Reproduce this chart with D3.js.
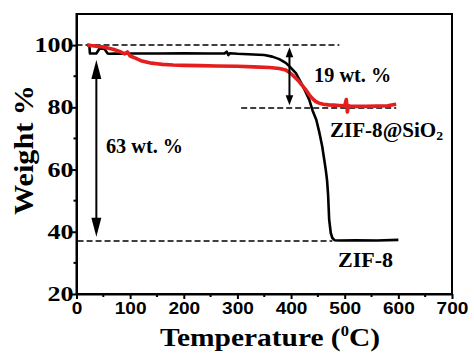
<!DOCTYPE html>
<html><head><meta charset="utf-8">
<script src="https://cdn.jsdelivr.net/npm/d3@7/dist/d3.min.js"></script>
<style>
html,body{margin:0;padding:0;background:#fff;}
svg{display:block;}
</style></head>
<body>
<svg id="chart" width="474" height="357"></svg>
<script>
// ---- data ----
const zifTemp   = [20,24,25,30,37,43,52,58,62,70,80,100,150,200,250,276,280,283,286,300,330,350,365,378,390,397,409,420,428,434,440,447,453,458,462,465,467,469,471,474,477,481,490,520,560,600];
const zifWeight = [100,100,97.3,97.3,97.3,98.9,98.8,97.3,97.2,97.3,97.2,97.3,97.3,97.4,97.3,97.3,97.9,96.8,97.4,97.2,97.0,96.8,96.3,95.5,94.3,93.2,91.0,87.5,84.6,82.4,79.0,76.0,71.7,67.5,63.0,59.5,56.7,52.0,44.0,39.6,38.0,37.3,37.2,37.3,37.2,37.4];

const sioTemp   = [20,30,40,50,60,70,80,90,95,100,110,120,130,140,150,160,180,200,230,260,300,330,360,378,390,397,405,415,421,428,434,440,445,450,455,460,470,480,490,500,503,505,507,510,520,540,560,580,590,596];
const sioWeight = [100,99.8,99.6,99.4,99.0,98.6,98.0,97.2,97.8,96.5,95.8,95.0,94.6,94.2,94.0,93.8,93.6,93.5,93.4,93.3,93.2,93.0,92.8,92.5,92.0,91.2,90.0,88.3,87.0,85.5,84.0,82.8,82.0,81.5,81.2,81.0,80.8,80.7,80.6,80.5,82.5,78.5,80.5,80.4,80.3,80.3,80.4,80.5,80.8,81.0];

const tempTicks   = [0,100,200,300,400,500,600,700];
const tempMinor   = [50,150,250,350,450,550,650];
const weightTicks = [20,40,60,80,100];
const weightMinor = [30,50,70,90];

// reference lines: [weight, tStart, tEnd]
const refLines = [[100,0,490],[79.8,307,596],[37.0,2,477]];
// arrows: [temperature, weight tip 1, weight tip 2]
const arrows = [[397,99.3,80.7],[37,95.2,38.4]];
// annotations: [text, temperature, weight]
const notes = [["19 wt. %",443,88.2],["63 wt. %",55,65.3]];

// ---- layout ----
const svg = d3.select("#chart");
const x = d3.scaleLinear().domain([0,700]).range([76.5,452]);
const y = d3.scaleLinear().domain([20,110]).range([294,14]);
const serif = "'Liberation Serif','Times New Roman',serif";
const sans  = "'Liberation Sans',Arial,sans-serif";

// frame
svg.append("rect").attr("x",x(0)).attr("y",y(110))
  .attr("width",x(700)-x(0)).attr("height",y(20)-y(110))
  .attr("fill","none").attr("stroke","#000").attr("stroke-width",2);

// x axis
const gx = svg.append("g").attr("transform",`translate(0,${y(20)})`)
  .call(d3.axisBottom(x).tickValues(tempTicks).tickSize(5).tickSizeOuter(0).tickFormat(d3.format("d")));
gx.select(".domain").attr("stroke-width",2);
gx.selectAll(".tick line").attr("stroke-width",2);
gx.selectAll(".tick text").attr("font-family",sans).attr("font-weight","bold")
  .attr("font-size",17).attr("y",8).attr("fill","#000")
  .attr("textLength",d=>String(d).length*10.6).attr("lengthAdjust","spacingAndGlyphs");
svg.append("g").selectAll("line").data(tempMinor).join("line")
  .attr("x1",d=>x(d)).attr("x2",d=>x(d)).attr("y1",y(20)).attr("y2",y(20)+3)
  .attr("stroke","#000").attr("stroke-width",2);

// y axis
const gy = svg.append("g").attr("transform",`translate(${x(0)},0)`)
  .call(d3.axisLeft(y).tickValues(weightTicks).tickSize(5).tickSizeOuter(0).tickFormat(d3.format("d")));
gy.select(".domain").attr("stroke-width",2);
gy.selectAll(".tick line").attr("stroke-width",2);
gy.selectAll(".tick text").attr("font-family",serif).attr("font-weight","bold")
  .attr("font-size",20).attr("x",-3).attr("dy","0.33em").attr("fill","#000")
  .attr("textLength",d=>String(d).length*13).attr("lengthAdjust","spacingAndGlyphs");
svg.append("g").selectAll("line").data(weightMinor).join("line")
  .attr("x1",x(0)).attr("x2",x(0)-3).attr("y1",d=>y(d)).attr("y2",d=>y(d))
  .attr("stroke","#000").attr("stroke-width",2);

// dashed reference lines
svg.append("g").selectAll("line").data(refLines).join("line")
  .attr("x1",d=>x(d[1])).attr("x2",d=>x(d[2])).attr("y1",d=>y(d[0])).attr("y2",d=>y(d[0]))
  .attr("stroke","#000").attr("stroke-width",1.5).attr("stroke-dasharray","6,3");

// curves
const lin = d3.line().x(d=>x(d[0])).y(d=>y(d[1])).curve(d3.curveLinear);
const zifData = zifTemp.map((t,i)=>[t,zifWeight[i]]);
const sioData = sioTemp.map((t,i)=>[t,sioWeight[i]]);
svg.append("path").datum(zifData).attr("d",lin)
  .attr("fill","none").attr("stroke","#000").attr("stroke-width",2.6).attr("stroke-linejoin","round");
svg.append("path").datum(sioData).attr("d",lin)
  .attr("fill","none").attr("stroke","#e41e1e").attr("stroke-width",3.6).attr("stroke-linejoin","round");

// arrows
arrows.forEach((a,i)=>{
  const ax = x(a[0]), y1 = y(a[1]), y2 = y(a[2]);
  const hl = i===0 ? 10 : 19, hw = i===0 ? 3.8 : 5;
  svg.append("line").attr("x1",ax).attr("x2",ax).attr("y1",y1+hl-2).attr("y2",y2-hl+2)
    .attr("stroke","#000").attr("stroke-width",2);
  svg.append("path").attr("d",`M${ax},${y1} L${ax-hw},${y1+hl} L${ax+hw},${y1+hl} Z`).attr("fill","#000");
  svg.append("path").attr("d",`M${ax},${y2} L${ax-hw},${y2-hl} L${ax+hw},${y2-hl} Z`).attr("fill","#000");
});

// annotations
svg.append("g").selectAll("text").data(notes).join("text")
  .attr("x",d=>x(d[1])).attr("y",d=>y(d[2]))
  .attr("font-family",serif).attr("font-weight","bold").attr("font-size",20)
  .attr("textLength",77).attr("lengthAdjust","spacingAndGlyphs")
  .text(d=>d[0]);

// series labels
const lab1 = svg.append("text").attr("x",330).attr("y",137)
  .attr("font-family",serif).attr("font-weight","bold").attr("font-size",20)
  .attr("textLength",113).attr("lengthAdjust","spacingAndGlyphs");
lab1.append("tspan").text("ZIF-8@SiO");
lab1.append("tspan").attr("font-size",13).attr("dy",3).text("2");
svg.append("text").attr("x",338).attr("y",267)
  .attr("font-family",serif).attr("font-weight","bold").attr("font-size",20)
  .attr("textLength",55).attr("lengthAdjust","spacingAndGlyphs").text("ZIF-8");

// axis titles
const xt = svg.append("text").attr("x",160).attr("y",346)
  .attr("font-family",serif).attr("font-weight","bold").attr("font-size",25)
  .attr("textLength",220).attr("lengthAdjust","spacingAndGlyphs");
xt.append("tspan").text("Temperature (");
xt.append("tspan").attr("font-size",14).attr("dy",-10).text("0");
xt.append("tspan").attr("dy",10).text("C)");

svg.append("text").attr("transform","translate(33,150) rotate(-90)")
  .attr("text-anchor","middle")
  .attr("font-family",serif).attr("font-weight","bold").attr("font-size",27)
  .attr("textLength",130).attr("lengthAdjust","spacingAndGlyphs").text("Weight %");
</script>
</body></html>
